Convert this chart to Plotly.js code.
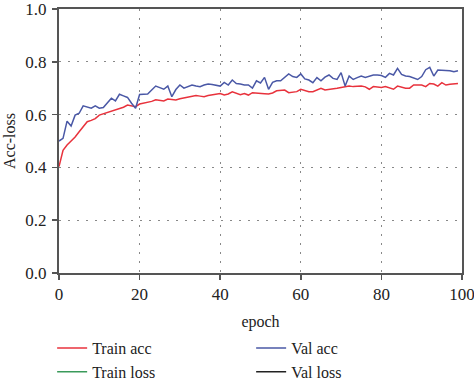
<!DOCTYPE html>
<html>
<head>
<meta charset="utf-8">
<script src="https://cdn.plot.ly/plotly-3.0.1.min.js"></script>
<style>html,body{margin:0;padding:0;background:#fff;}#chart{width:474px;height:382px;}</style>
</head>
<body>
<div id="chart"></div>
<script>
const epochs = Array.from({length: 100}, (_, i) => i);
const trainAcc = [0.403,0.465,0.485,0.500,0.515,0.535,0.553,0.573,0.578,0.585,
0.598,0.603,0.608,0.612,0.618,0.624,0.628,0.636,0.633,0.630,
0.640,0.643,0.648,0.650,0.656,0.654,0.652,0.659,0.656,0.655,
0.660,0.663,0.665,0.668,0.672,0.670,0.668,0.672,0.675,0.678,
0.680,0.674,0.678,0.686,0.680,0.675,0.680,0.674,0.683,0.681,
0.680,0.679,0.678,0.682,0.690,0.691,0.693,0.683,0.685,0.687,
0.696,0.690,0.687,0.687,0.695,0.700,0.693,0.695,0.696,0.700,
0.703,0.705,0.708,0.706,0.707,0.708,0.705,0.696,0.706,0.705,
0.703,0.706,0.700,0.696,0.708,0.705,0.700,0.700,0.712,0.712,
0.712,0.706,0.718,0.716,0.708,0.721,0.712,0.715,0.716,0.718];
const valAcc = [0.500,0.510,0.575,0.557,0.598,0.605,0.633,0.628,0.624,0.633,
0.624,0.627,0.645,0.662,0.652,0.677,0.671,0.665,0.643,0.624,
0.676,0.678,0.678,0.693,0.708,0.702,0.696,0.708,0.668,0.695,
0.712,0.700,0.705,0.712,0.708,0.706,0.712,0.716,0.714,0.712,
0.708,0.722,0.712,0.731,0.718,0.716,0.712,0.712,0.700,0.728,
0.720,0.741,0.696,0.722,0.728,0.728,0.740,0.754,0.744,0.741,
0.754,0.735,0.731,0.721,0.740,0.728,0.742,0.750,0.737,0.733,
0.759,0.708,0.746,0.733,0.740,0.746,0.741,0.746,0.750,0.750,
0.748,0.741,0.756,0.750,0.775,0.752,0.746,0.744,0.738,0.733,
0.744,0.770,0.779,0.746,0.769,0.768,0.767,0.766,0.762,0.766];
// loss series are listed in the legend but not visible in the plotted range
const trainLoss = [null];
const valLoss = [null];
const xTicks = [0,20,40,60,80,100];
const yTicks = [0,0.2,0.4,0.6,0.8,1.0];

const font = {family: '"Liberation Serif", "DejaVu Serif", serif', color: '#222', size: 16};
const tickFont = Object.assign({}, font, {size: 17});
const traces = [
  {x: epochs, y: trainAcc, name: 'Train acc', mode: 'lines', line: {color: '#e8323c', width: 1.5}},
  {x: epochs, y: valAcc, name: 'Val acc', mode: 'lines', line: {color: '#4a58a6', width: 1.5}},
  {x: epochs.slice(0, trainLoss.length), y: trainLoss, name: 'Train loss', mode: 'lines', line: {color: '#3a9a5a', width: 1.5}},
  {x: epochs.slice(0, valLoss.length), y: valLoss, name: 'Val loss', mode: 'lines', line: {color: '#222222', width: 1.5}}
];
const axisCommon = {
  showline: true, linecolor: '#555', linewidth: 2, mirror: true,
  ticks: 'outside', ticklen: 5, tickwidth: 1.5, tickcolor: '#555',
  showgrid: true, gridcolor: '#888', griddash: '1.5px,7.5px', gridwidth: 1.2,
  zeroline: false, tickfont: tickFont, ticklabeloverflow: 'allow', automargin: false
};
const layout = {
  width: 474, height: 382,
  margin: {l: 59, r: 12, t: 9, b: 109},
  paper_bgcolor: '#fff', plot_bgcolor: '#fff',
  font: font,
  xaxis: Object.assign({}, axisCommon, {range: [0, 100], tickvals: xTicks, ticktext: xTicks.map(String),
    title: {text: 'epoch', font: font, standoff: 12}}),
  yaxis: Object.assign({}, axisCommon, {range: [0, 1], tickvals: yTicks, ticktext: yTicks.map(v => v.toFixed(1)),
    ticklabelstandoff: 2,
    title: {text: 'Acc-loss', font: font, standoff: 6}}),
  showlegend: true,
  legend: {orientation: 'h', xref: 'container', x: 0.11, xanchor: 'left', yref: 'container', y: 0.1335, yanchor: 'top',
    entrywidth: 154, entrywidthmode: 'pixels', font: font, tracegroupgap: 0, itemwidth: 30},
};
Plotly.newPlot('chart', traces, layout, {displayModeBar: false, staticPlot: true});
</script>
</body>
</html>
